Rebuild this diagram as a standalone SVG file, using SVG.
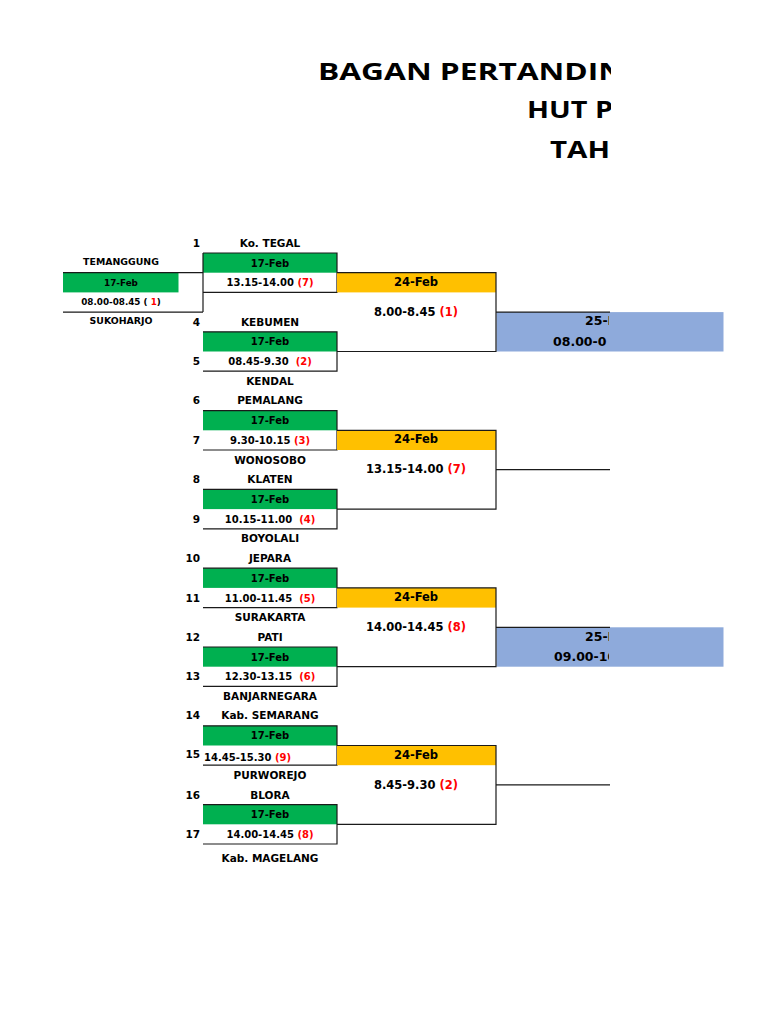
<svg xmlns="http://www.w3.org/2000/svg" width="768" height="1024" viewBox="0 0 768 1024">
<defs>
<clipPath id="cut"><rect x="0" y="0" width="611" height="1024"/></clipPath>
<clipPath id="cutb"><rect x="0" y="0" width="609" height="1024"/></clipPath>
</defs>
<style>
text{font-family:"DejaVu Sans",Verdana,sans-serif;font-weight:bold;fill:#000}
.ttl{font-family:"Open Sans","DejaVu Sans",sans-serif;font-size:24px;font-weight:bold}
.team{font-size:10.5px;text-anchor:middle}
.num{font-size:10.5px;text-anchor:end}
.g{font-size:10px;text-anchor:middle}
.tm{font-size:10px;text-anchor:middle}
.o{font-size:11.5px;text-anchor:middle}
.s{font-size:8.8px;text-anchor:middle}
.s2{font-size:9.4px;text-anchor:middle}
.b{font-size:12.5px}
.r{fill:#ff0000}
.ln{fill:none;stroke:#1a1a1a;stroke-width:1.2}
.grn{fill:#00b050}
.org{fill:#ffc000}
.blu{fill:#8eaadb}
</style>
<rect width="768" height="1024" fill="#ffffff"/>

<g id="title" clip-path="url(#cut)">
<text class="ttl" x="318" y="80" textLength="306" lengthAdjust="spacingAndGlyphs">BAGAN PERTANDIN</text>
<text class="ttl" x="527" y="118" textLength="86" lengthAdjust="spacingAndGlyphs">HUT P</text>
<text class="ttl" x="550" y="158" textLength="60" lengthAdjust="spacingAndGlyphs">TAH</text>
</g>

<!-- blue final-round boxes -->
<g id="final1">
<rect class="blu" x="496.5" y="312.1" width="227" height="39.4"/>
<g clip-path="url(#cutb)">
<text class="b" x="585" y="325.4">25-Feb</text>
<text class="b" x="553" y="345.8">08.00-0</text>
</g>
</g>
<g id="final2">
<rect class="blu" x="496.5" y="627.3" width="227" height="39.4"/>
<g clip-path="url(#cutb)">
<text class="b" x="585" y="640.6">25-Feb</text>
<text class="b" x="554" y="660.8">09.00-10</text>
</g>
</g>

<!-- preliminary match -->
<g id="m0">
<rect class="grn" x="63" y="272.7" width="115.5" height="19.7"/>
<text class="s2" x="121" y="265">TEMANGGUNG</text>
<text class="s" x="121" y="286.3">17-Feb</text>
<text class="s" x="121" y="305.2" xml:space="preserve">08.00-08.45 ( <tspan class="r">1</tspan>)</text>
<text class="s2" x="121" y="323.5">SUKOHARJO</text>
<path class="ln" d="M63,272.7H203M63,312.1H203"/>
</g>

<!-- Quad 1 -->
<g id="m1">
<rect class="grn" x="203" y="253" width="134" height="19.7"/>
<text class="num" x="200" y="246.5">1</text>
<text class="team" x="270" y="246.5">Ko. TEGAL</text>
<text class="g" x="270" y="266.6">17-Feb</text>
<text class="tm" x="270" y="286.3">13.15-14.00 <tspan class="r">(7)</tspan></text>
<path class="ln" d="M203,253H337V292.4H203"/>
</g>
<g id="m2">
<rect class="grn" x="203" y="331.8" width="134" height="19.7"/>
<text class="num" x="200" y="325.7">4</text>
<text class="team" x="270" y="325.7">KEBUMEN</text>
<text class="g" x="270" y="345.4">17-Feb</text>
<text class="num" x="200" y="365.1">5</text>
<text class="tm" x="270" y="365.1" xml:space="preserve">08.45-9.30  <tspan class="r">(2)</tspan></text>
<text class="team" x="270" y="384.8">KENDAL</text>
<path class="ln" d="M203,331.8H337V371.2H203"/>
</g>
<g id="sf1">
<rect class="org" x="337" y="272.7" width="159" height="19.7"/>
<text class="o" x="416" y="285.8">24-Feb</text>
<text class="o" x="416" y="315.8">8.00-8.45 <tspan class="r">(1)</tspan></text>
<path class="ln" d="M337,272.7H496V351.5H337"/>
</g>

<!-- Quad 2 -->
<g id="m3">
<rect class="grn" x="203" y="410.6" width="134" height="19.7"/>
<text class="num" x="200" y="404">6</text>
<text class="team" x="270" y="404">PEMALANG</text>
<text class="g" x="270" y="424.2">17-Feb</text>
<text class="num" x="200" y="443.9">7</text>
<text class="tm" x="270" y="443.9">9.30-10.15 <tspan class="r">(3)</tspan></text>
<text class="team" x="270" y="463.6">WONOSOBO</text>
<path class="ln" d="M203,410.6H337V450H203"/>
</g>
<g id="m4">
<rect class="grn" x="203" y="489.4" width="134" height="19.7"/>
<text class="num" x="200" y="483.3">8</text>
<text class="team" x="270" y="483.3">KLATEN</text>
<text class="g" x="270" y="503">17-Feb</text>
<text class="num" x="200" y="522.7">9</text>
<text class="tm" x="270" y="522.7" xml:space="preserve">10.15-11.00  <tspan class="r">(4)</tspan></text>
<text class="team" x="270" y="542.4">BOYOLALI</text>
<path class="ln" d="M203,489.4H337V528.8H203"/>
</g>
<g id="sf2">
<rect class="org" x="337" y="430.3" width="159" height="19.7"/>
<text class="o" x="416" y="443.4">24-Feb</text>
<text class="o" x="416" y="473.4">13.15-14.00 <tspan class="r">(7)</tspan></text>
<path class="ln" d="M337,430.3H496V509.1H337"/>
</g>

<!-- Quad 3 -->
<g id="m5">
<rect class="grn" x="203" y="568.2" width="134" height="19.7"/>
<text class="num" x="200" y="561.8">10</text>
<text class="team" x="270" y="561.8">JEPARA</text>
<text class="g" x="270" y="581.8">17-Feb</text>
<text class="num" x="200" y="601.5">11</text>
<text class="tm" x="270" y="601.5" xml:space="preserve">11.00-11.45  <tspan class="r">(5)</tspan></text>
<text class="team" x="270" y="621.2">SURAKARTA</text>
<path class="ln" d="M203,568.2H337V607.6H203"/>
</g>
<g id="m6">
<rect class="grn" x="203" y="647" width="134" height="19.7"/>
<text class="num" x="200" y="640.9">12</text>
<text class="team" x="270" y="640.9">PATI</text>
<text class="g" x="270" y="660.6">17-Feb</text>
<text class="num" x="200" y="680.3">13</text>
<text class="tm" x="270" y="680.3" xml:space="preserve">12.30-13.15  <tspan class="r">(6)</tspan></text>
<text class="team" x="270" y="700">BANJARNEGARA</text>
<path class="ln" d="M203,647H337V686.4H203"/>
</g>
<g id="sf3">
<rect class="org" x="337" y="587.9" width="159" height="19.7"/>
<text class="o" x="416" y="601">24-Feb</text>
<text class="o" x="416" y="631">14.00-14.45 <tspan class="r">(8)</tspan></text>
<path class="ln" d="M337,587.9H496V666.7H337"/>
</g>

<!-- Quad 4 -->
<g id="m7">
<rect class="grn" x="203" y="725.8" width="134" height="19.7"/>
<text class="num" x="200" y="719.4">14</text>
<text class="team" x="270" y="719.4">Kab. SEMARANG</text>
<text class="g" x="270" y="739.4">17-Feb</text>
<text class="num" x="200" y="757.8">15</text>
<text class="tm" x="204" y="761" style="text-anchor:start">14.45-15.30 <tspan class="r">(9)</tspan></text>
<text class="team" x="270" y="778.8">PURWOREJO</text>
<path class="ln" d="M203,725.8H337V765.2H203"/>
</g>
<g id="m8">
<rect class="grn" x="203" y="804.6" width="134" height="19.7"/>
<text class="num" x="200" y="798.5">16</text>
<text class="team" x="270" y="798.5">BLORA</text>
<text class="g" x="270" y="818.2">17-Feb</text>
<text class="num" x="200" y="837.9">17</text>
<text class="tm" x="270" y="837.9">14.00-14.45 <tspan class="r">(8)</tspan></text>
<text class="team" x="270" y="861.5">Kab. MAGELANG</text>
<path class="ln" d="M203,804.6H337V844H203"/>
</g>
<g id="sf4">
<rect class="org" x="337" y="745.5" width="159" height="19.7"/>
<text class="o" x="416" y="758.6">24-Feb</text>
<text class="o" x="416" y="788.6">8.45-9.30 <tspan class="r">(2)</tspan></text>
<path class="ln" d="M337,745.5H496V824.3H337"/>
</g>

<g id="connectors">
<path class="ln" d="M203,253V312.1"/>
<path class="ln" d="M496,312.1H610"/>
<path class="ln" d="M496,469.7H610"/>
<path class="ln" d="M496,627.3H610"/>
<path class="ln" d="M496,784.9H610"/>
</g>
</svg>
